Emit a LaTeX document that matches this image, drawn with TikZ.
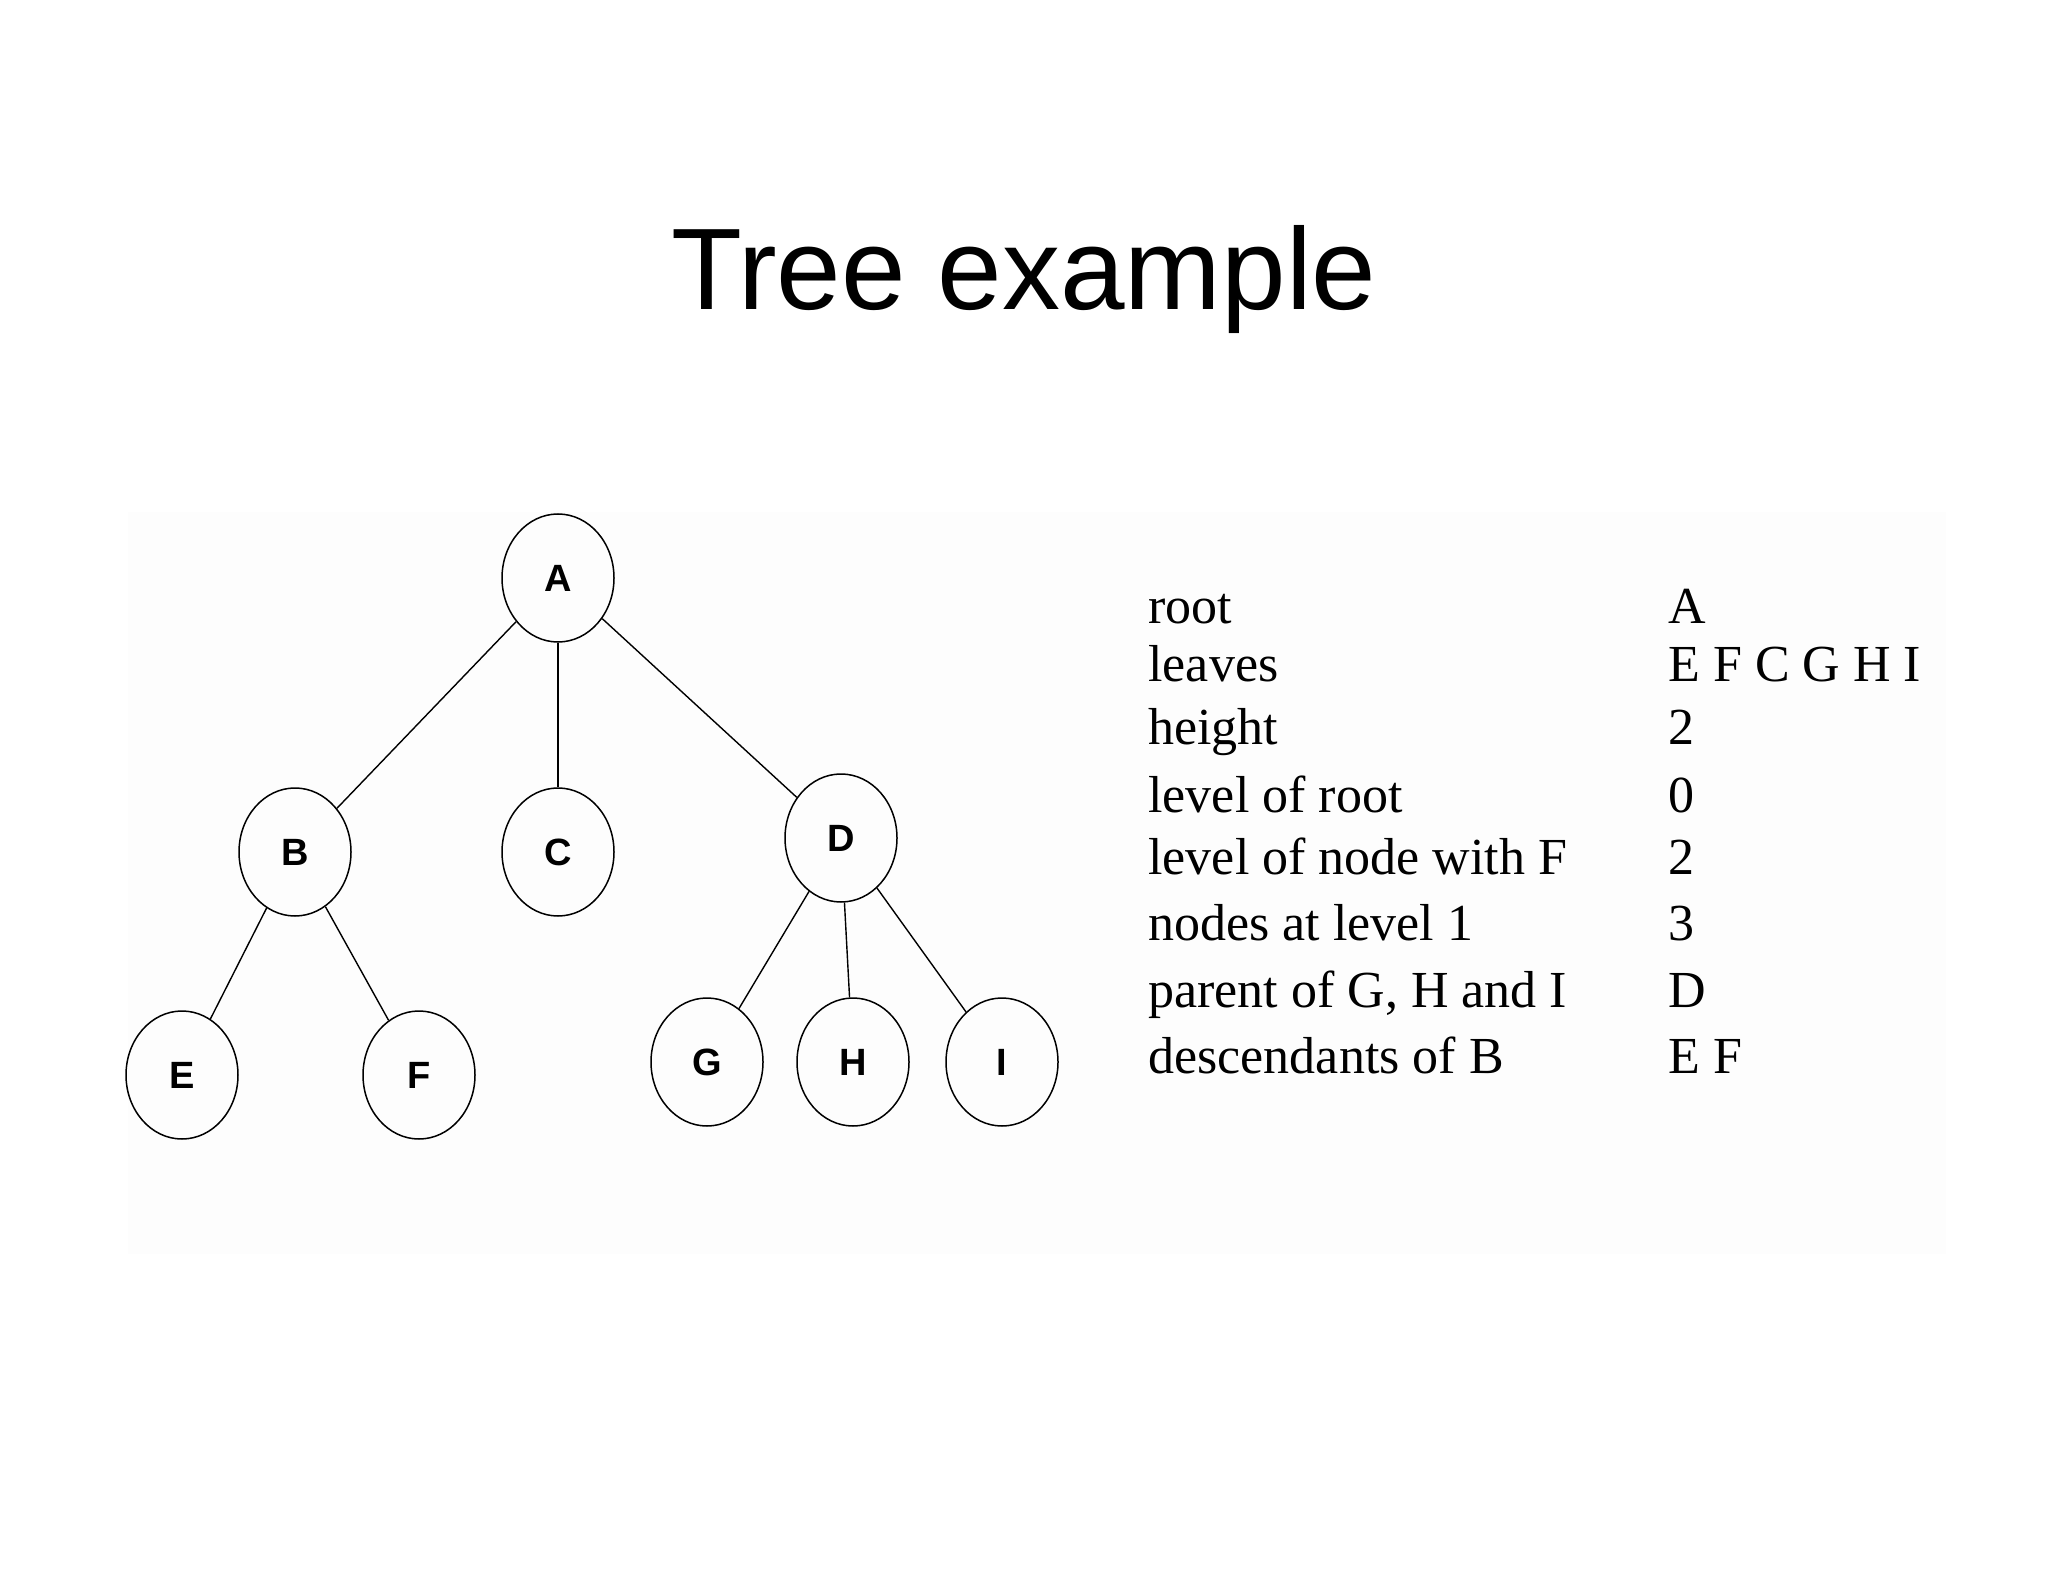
\documentclass[tikz,border=0pt]{standalone}
\usepackage{fontspec}
\setmainfont{Liberation Serif}
\setsansfont{Liberation Sans}
\usepackage{tikz}
\usetikzlibrary{shapes.geometric}
\definecolor{panelbg}{HTML}{FDFDFD}
\definecolor{ink}{HTML}{000000}

\begin{document}
\begin{tikzpicture}[
  x=0.5pt, y=-0.5pt,
  vert/.style={draw=ink, ellipse, line width=0.75pt, minimum width=56pt, minimum height=64pt, inner sep=0pt, font=\sffamily\bfseries\fontsize{19}{19}\selectfont},
  term/.style={anchor=base west, inner sep=0pt, font=\fontsize{26}{26}\selectfont},
  edge/.style={draw=ink, line width=0.7pt}
]
\useasboundingbox (0,0) rectangle (2048,1582);
\fill[panelbg] (128,512) rectangle (1946,1254);

\node[anchor=base, inner sep=0pt, font=\sffamily\fontsize{58}{58}\selectfont] (title) at (1024,310) {Tree example};

% the tree
\node[vert] (A) at (558,578) {A};
\node[vert] (B) at (295,852) {B};
\node[vert] (C) at (558,852) {C};
\node[vert] (D) at (841,838) {D};
\node[vert] (E) at (182,1075) {E};
\node[vert] (F) at (419,1075) {F};
\node[vert] (G) at (707,1062) {G};
\node[vert] (H) at (853,1062) {H};
\node[vert] (I) at (1002,1062) {I};

\draw[edge] (A) -- (B);
\draw[edge] (A) -- (C);
\draw[edge] (A) -- (D);
\draw[edge] (B) -- (E);
\draw[edge] (B) -- (F);
\draw[edge] (D) -- (G);
\draw[edge] (D) -- (H);
\draw[edge] (D) -- (I);

% terms and values
\node[term] (root) at (1148,624) {root};
\node[term] (leaves) at (1148,681) {leaves};
\node[term] (height) at (1148,744) {height};
\node[term] (lvlroot) at (1148,812) {level of root};
\node[term] (lvlF) at (1148,874) {level of node with F};
\node[term] (lvlone) at (1148,940) {nodes at level 1};
\node[term] (parent) at (1148,1007) {parent of G, H and I};
\node[term] (desc) at (1148,1073) {descendants of B};

\node[term] (rootval) at (1668,624) {A};
\node[term] (leavesval) at (1668,681) {E F C G H I};
\node[term] (heightval) at (1668,744) {2};
\node[term] (lvlrootval) at (1668,812) {0};
\node[term] (lvlFval) at (1668,874) {2};
\node[term] (lvloneval) at (1668,940) {3};
\node[term] (parentval) at (1668,1007) {D};
\node[term] (descval) at (1668,1073) {E F};
\end{tikzpicture}
\end{document}
